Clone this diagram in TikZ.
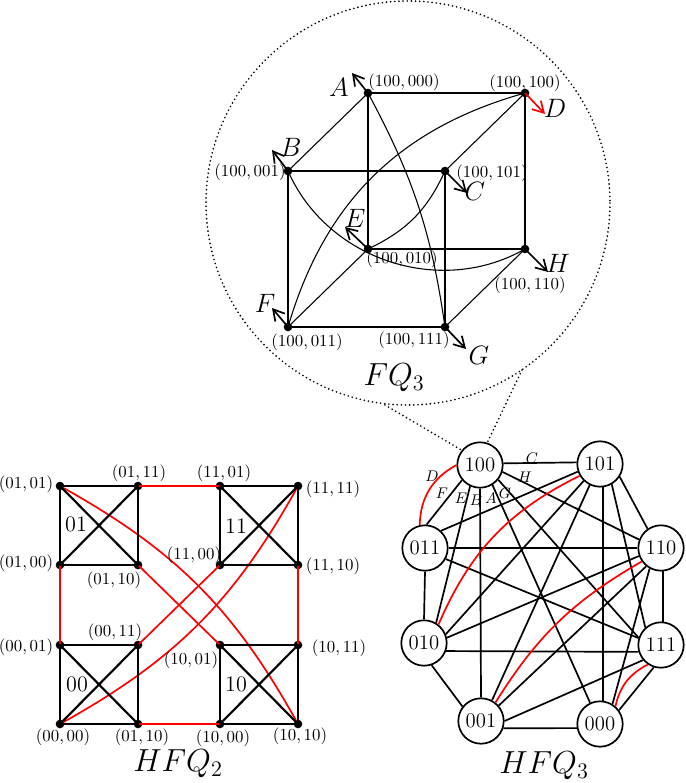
\documentclass[tikz,border=0pt]{standalone}
\usetikzlibrary{arrows.meta,calc}
\begin{document}
\begin{tikzpicture}[x=0.65pt,y=-0.65pt,
  dot/.style={circle,fill=black,inner sep=0pt,minimum size=5.6pt},
  cubeedge/.style={line width=0.7pt},
  outarr/.style={line width=1.1pt,-{Straight Barb[length=7pt,width=8pt,line width=1.1pt]}},
  lbl/.style={font=\fontsize{10.5}{12}\selectfont,inner sep=0pt},
  letter/.style={font=\fontsize{16}{18}\selectfont,inner sep=0pt},
  sqedge/.style={line width=1.4pt},
  rededge/.style={red,line width=1.1pt},
  clus/.style={font=\Large,inner sep=0pt},
  hn/.style={circle,draw,line width=1.1pt,minimum size=29.5pt,inner sep=0pt,font=\fontsize{13.5}{15}\selectfont},
  hedge/.style={line width=1.1pt},
  hred/.style={red,line width=1.1pt},
  smalllbl/.style={font=\fontsize{10}{12}\selectfont,inner sep=0pt},
  captext/.style={font=\fontsize{20}{22}\selectfont,inner sep=0pt},
  dotline/.style={line width=1.2pt,dash pattern=on 0pt off 2.7pt,line cap=round}
]
\useasboundingbox (0,0) rectangle (685,783);

% ---------------- FQ3 (top) ----------------
\draw[dotline] (408,203) circle[radius=202];
\node[dot] (A) at (368,93) {};
\node[dot] (D) at (525,93) {};
\node[dot] (B) at (288,171) {};
\node[dot] (C) at (445,171) {};
\node[dot] (E) at (368,249) {};
\node[dot] (H) at (525,249) {};
\node[dot] (F) at (288,327) {};
\node[dot] (G) at (445,327) {};
\foreach \u/\v in {A/D,A/B,D/C,B/C,A/E,D/H,E/H,B/F,C/G,F/G,E/F,H/G}
  \draw[cubeedge] (\u.center) -- (\v.center);
\draw[cubeedge] (A.center) to[bend left=10] (G.center);
\draw[cubeedge] (B.center) to[bend right=48] (H.center);
\draw[cubeedge] (C.center) to[bend left=20] (E.center);
\draw[cubeedge] (D.center) to[bend right=29] (F.center);

\coordinate (Aa) at (352,73);
\coordinate (Ba) at (272,150);
\coordinate (Ca) at (467,193);
\coordinate (Da) at (545,114);
\coordinate (Ea) at (345,227);
\coordinate (Fa) at (272,308);
\coordinate (Ga) at (466,349);
\coordinate (Ha) at (548,272);
\foreach \p in {A,B,C,E,F,G,H}
  \draw[outarr] (\p.center) -- (\p a);
\draw[outarr,red] (D.center) -- (Da);

\node[letter] (lA) at (339,87) {$A$};
\node[letter] (lB) at (291,147) {$B$};
\node[letter] (lC) at (475,191) {$C$};
\node[letter] (lD) at (555,108) {$D$};
\node[letter] (lE) at (355,218) {$E$};
\node[letter] (lF) at (265,303) {$F$};
\node[letter] (lG) at (479,355) {$G$};
\node[letter] (lH) at (558,263) {$H$};

\node[lbl] (tA) at (404,82) {$(100,000)$};
\node[lbl] (tD) at (525,83) {$(100,100)$};
\node[lbl] (tB) at (250,172) {$(100,001)$};
\node[lbl] (tC) at (492,173) {$(100,101)$};
\node[lbl] (tE) at (402,259) {$(100,010)$};
\node[lbl] (tH) at (530,285) {$(100,110)$};
\node[lbl] (tF) at (307,342) {$(100,011)$};
\node[lbl] (tG) at (414,340) {$(100,111)$};
\node[captext] (fq3) at (394,378) {$FQ_3$};

% ---------------- HFQ2 (bottom left) ----------------
\node[dot] (a1) at (60,486) {};
\node[dot] (a2) at (138,486) {};
\node[dot] (a3) at (60,565) {};
\node[dot] (a4) at (138,565) {};
\node[dot] (b1) at (220,486) {};
\node[dot] (b2) at (298,486) {};
\node[dot] (b3) at (220,565) {};
\node[dot] (b4) at (298,565) {};
\node[dot] (c1) at (60,645) {};
\node[dot] (c2) at (138,645) {};
\node[dot] (c3) at (60,724) {};
\node[dot] (c4) at (138,724) {};
\node[dot] (d1) at (220,645) {};
\node[dot] (d2) at (298,645) {};
\node[dot] (d3) at (220,724) {};
\node[dot] (d4) at (298,724) {};

\foreach \u/\v in {a2/b1,a3/c1,b4/d2,c4/d3,a4/d1,b3/c2}
  \draw[rededge] (\u.center) -- (\v.center);
\draw[rededge] (a1.center) to[bend left=16] (d4.center);
\draw[rededge] (b2.center) to[bend left=16] (c3.center);

\foreach \q in {a,b,c,d}{
  \draw[sqedge] (\q1.center) -- (\q2.center) -- (\q4.center) -- (\q3.center) -- cycle;
  \draw[sqedge] (\q1.center) -- (\q4.center);
  \draw[sqedge] (\q2.center) -- (\q3.center);
}

\node[clus] (k01) at (76,524) {01};
\node[clus] (k11) at (236,526) {11};
\node[clus] (k00) at (77,684) {00};
\node[clus] (k10) at (236,684) {10};

\node[lbl] (ta1) at (26,484) {$(01,01)$};
\node[lbl] (ta2) at (139,473) {$(01,11)$};
\node[lbl] (ta3) at (26,563) {$(01,00)$};
\node[lbl] (ta4) at (114,580) {$(01,10)$};
\node[lbl] (tb1) at (224,473) {$(11,01)$};
\node[lbl] (tb2) at (333,489) {$(11,11)$};
\node[lbl] (tb3) at (194,555) {$(11,00)$};
\node[lbl] (tb4) at (333,566) {$(11,10)$};
\node[lbl] (tc1) at (26,647) {$(00,01)$};
\node[lbl] (tc2) at (115,632) {$(00,11)$};
\node[lbl] (tc3) at (63,737) {$(00,00)$};
\node[lbl] (tc4) at (142,737) {$(01,10)$};
\node[lbl] (td1) at (191,660) {$(10,01)$};
\node[lbl] (td2) at (339,648) {$(10,11)$};
\node[lbl] (td3) at (223,738) {$(10,00)$};
\node[lbl] (td4) at (300,736) {$(10,10)$};
\node[captext] (hfq2) at (178,764) {$HFQ_2$};

% ---------------- HFQ3 (bottom right) ----------------
\node[hn] (n100) at (480,465) {100};
\node[hn] (n101) at (600,464) {101};
\node[hn] (n110) at (661,548) {110};
\node[hn] (n111) at (661,645) {111};
\node[hn] (n000) at (600,724) {000};
\node[hn] (n001) at (481,721) {001};
\node[hn] (n010) at (424,643) {010};
\node[hn] (n011) at (425,548) {011};

\foreach \u/\a/\v/\b in {100/4/101/176, 100/-17/110/159, 100/-39/111/162,
  100/-58/000/115, 100/-90/001/90, 100/-115/010/59, 100/-140/011/86,
  011/47/101/199, 101/226/010/22, 101/244/001/62, 101/-82/000/82,
  101/-60/111/132, 101/-33/110/125,
  011/0/110/180, 011/-28/111/163, 011/-90/010/90,
  010/13/110/200, 010/-20/111/197, 010/-71/001/142,
  110/-85/111/85, 110/231/001/41, 110/241/000/58,
  111/252/000/36, 111/220/001/0, 001/-18/000/190}
  \draw[hedge] (n\u.\a) -- (n\v.\b);

\draw[hred] (n100.180) to[bend right=30] (n011.103);
\draw[hred] (n101.210) to[bend right=20] (n010.52);
\draw[hred] (n110.215) to[bend right=14] (n001.52);
\draw[hred] (n111.236) to[bend right=25] (n000.49);

\node[smalllbl] (eD) at (432,476) {$D$};
\node[smalllbl] (eF) at (442,493) {$F$};
\node[smalllbl] (eE) at (461,498) {$E$};
\node[smalllbl] (eB) at (476,500) {$B$};
\node[smalllbl] (eA) at (491,498) {$A$};
\node[smalllbl] (eG) at (505,493) {$G$};
\node[smalllbl] (eH) at (525,477) {$H$};
\node[smalllbl] (eC) at (532,458) {$C$};

\coordinate (z1) at (385,405);
\coordinate (z2) at (522,370);
\draw[dotline] (z1) -- (n100.141);
\draw[dotline] (z2) -- (n100.72);
\node[captext] (hfq3) at (544,766) {$HFQ_3$};
\end{tikzpicture}
\end{document}
